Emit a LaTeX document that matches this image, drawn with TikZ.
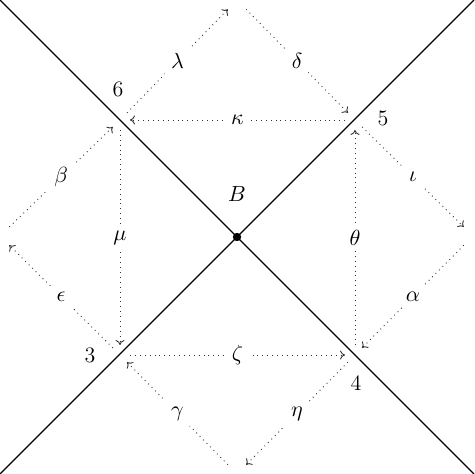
\documentclass[tikz,border=0pt]{standalone}
\usetikzlibrary{arrows.meta}
\begin{document}
\begin{tikzpicture}[x=0.5pt,y=-0.5pt,font=\fontsize{11}{13}\selectfont,
  vin/.style={circle,minimum size=10pt,inner sep=0pt,outer sep=0pt},
  vout/.style={circle,minimum size=13pt,inner sep=0pt,outer sep=0pt},
  arr/.style={-{To[length=2.5pt,width=4.5pt]},dotted,line width=0.45pt,black!80},
  lab/.style={midway,fill=white,inner sep=3pt,text=black},
  axis/.style={line width=0.6pt,black}]
\useasboundingbox (0,0) rectangle (474,474);
% diagonal lines
\coordinate (tl) at (0,0);
\coordinate (br) at (474,474);
\coordinate (tr) at (474,0);
\coordinate (bl) at (0,474);
\draw[axis] (tl) -- (br);
\draw[axis] (tr) -- (bl);
\node[circle,fill=black,inner sep=0pt,minimum size=4.2pt] (c) at (237,237) {};
\node (Blab) at (237,194) {$B$};
% vertices
\node[vout] (T) at (237,0) {};
\node[vout] (L) at (0,236) {};
\node[vout] (R) at (473,236) {};
\node[vout] (Bt) at (237,474) {};
\node[vin] (P6) at (120,120) {};
\node[vin] (P5) at (355,120) {};
\node[vin] (P3) at (120,355) {};
\node[vin] (P4) at (355,355) {};
% vertex labels
\node (l6) at (118,89) {6};
\node (l5) at (383,118) {5};
\node (l3) at (90,355) {3};
\node (l4) at (356,383) {4};
% arrows
\draw[arr] (P6) -- node[lab] {$\lambda$} (T);
\draw[arr] (T) -- node[lab] {$\delta$} (P5);
\draw[arr] (P5) -- node[lab] {$\kappa$} (P6);
\draw[arr] (P5) -- node[lab] {$\iota$} (R);
\draw[arr] (R) -- node[lab] {$\alpha$} (P4);
\draw[arr] (P4) -- node[lab] {$\theta$} (P5);
\draw[arr] (P6) -- node[lab] {$\mu$} (P3);
\draw[arr] (L) -- node[lab] {$\beta$} (P6);
\draw[arr] (P3) -- node[lab] {$\epsilon$} (L);
\draw[arr] (P3) -- node[lab] {$\zeta$} (P4);
\draw[arr] (Bt) -- node[lab] {$\gamma$} (P3);
\draw[arr] (P4) -- node[lab] {$\eta$} (Bt);
\end{tikzpicture}
\end{document}
